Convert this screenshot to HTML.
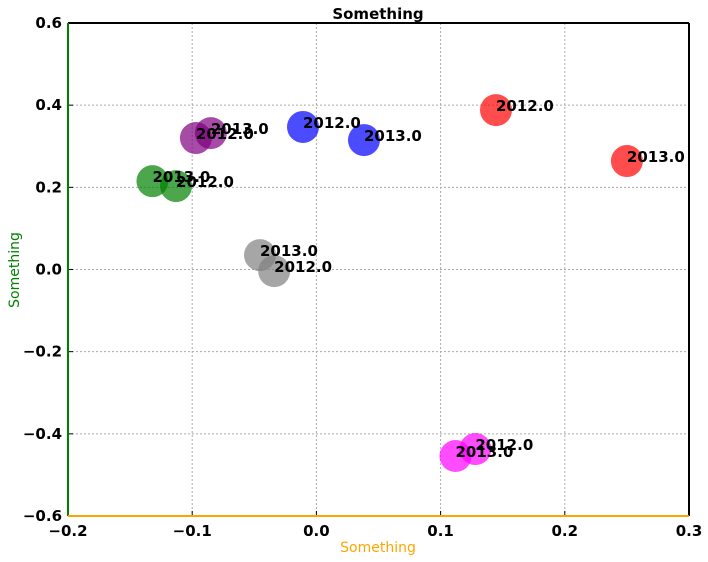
<!DOCTYPE html>
<html><head><meta charset="utf-8"><style>
body{margin:0;background:#fff;}
svg{display:block;font-family:"DejaVu Sans","Liberation Sans",sans-serif;}
</style></head><body>
<svg id="chart" width="708" height="562">
<g id="grid"></g>
<g id="marks"></g>
<g id="axes"></g>
<text x="378" y="19" text-anchor="middle" font-size="15" font-weight="bold">Something</text>
<text x="378" y="552" text-anchor="middle" font-size="14" fill="orange">Something</text>
<text x="19" y="270" text-anchor="middle" font-size="14" fill="green" transform="rotate(-90 19 270)">Something</text>
</svg>
<script>
const xTicks=[-0.2,-0.1,0.0,0.1,0.2,0.3];
const xTickLabels=["\u22120.2","\u22120.1","0.0","0.1","0.2","0.3"];
const yTicks=[-0.6,-0.4,-0.2,0.0,0.2,0.4,0.6];
const yTickLabels=["\u22120.6","\u22120.4","\u22120.2","0.0","0.2","0.4","0.6"];
const pointColors=["red","red","blue","blue","purple","purple","green","green","gray","gray","magenta","magenta"];
const pointLabels=["2012.0","2013.0","2012.0","2013.0","2012.0","2013.0","2013.0","2012.0","2013.0","2012.0","2012.0","2013.0"];
const xValues=[0.1446,0.250,-0.0108,0.0383,-0.097,-0.085,-0.132,-0.113,-0.0454,-0.034,0.128,0.112];
const yValues=[0.388,0.264,0.347,0.315,0.320,0.332,0.215,0.203,0.035,-0.004,-0.437,-0.454];

const L=68,R=689,T=23,B=516;
const xs=v=>L+(v+0.2)/0.5*(R-L);
const ys=v=>B-(v+0.6)/1.2*(B-T);
const NS="http://www.w3.org/2000/svg";
function mk(tag,attrs,parent){const e=document.createElementNS(NS,tag);for(const k in attrs)e.setAttribute(k,attrs[k]);parent.appendChild(e);return e;}
const grid=document.getElementById('grid'),marks=document.getElementById('marks'),axes=document.getElementById('axes');
xTicks.forEach((t,i)=>{
  const x=xs(t);
  const g=mk('line',{x1:x,x2:x,y1:T,y2:B,stroke:'#aaa','stroke-dasharray':'2,2'},grid);
  
  
  const tk=mk('line',{x1:x,x2:x,y1:B,y2:B-5,stroke:'#000'},axes);
  
  
  const lb=mk('text',{x:x,y:B+20,'text-anchor':'middle','font-size':15,'font-weight':'bold'},axes);
  lb.textContent=xTickLabels[i];
  
  
});
yTicks.forEach((t,i)=>{
  const y=ys(t);
  const g=mk('line',{x1:L,x2:R,y1:y,y2:y,stroke:'#aaa','stroke-dasharray':'2,2'},grid);
  
  
  const tk=mk('line',{x1:L,x2:L+5,y1:y,y2:y,stroke:'#000'},axes);
  
  
  const lb=mk('text',{x:L-6,y:y+5,'text-anchor':'end','font-size':15,'font-weight':'bold'},axes);
  lb.textContent=yTickLabels[i];
  
  
});
xValues.forEach((v,i)=>{
  const cx=xs(v),cy=ys(yValues[i]);
  const c=mk('circle',{cx:cx,cy:cy,r:16,fill:pointColors[i],'fill-opacity':0.7},marks);
  
  
});
xValues.forEach((v,i)=>{
  const t=mk('text',{x:xs(v),y:ys(yValues[i])+1,'font-size':15,'font-weight':'bold'},marks);
  t.textContent=pointLabels[i];
  
  
});
[[L,T,R,T,'#000'],[R,T,R,B,'#000'],[L,T,L,B,'green'],[L,B,R,B,'orange']].forEach(s=>{
  const l=mk('line',{x1:s[0],y1:s[1],x2:s[2],y2:s[3],stroke:s[4],'stroke-width':2},axes);
  
  
});
</script>
</body></html>
